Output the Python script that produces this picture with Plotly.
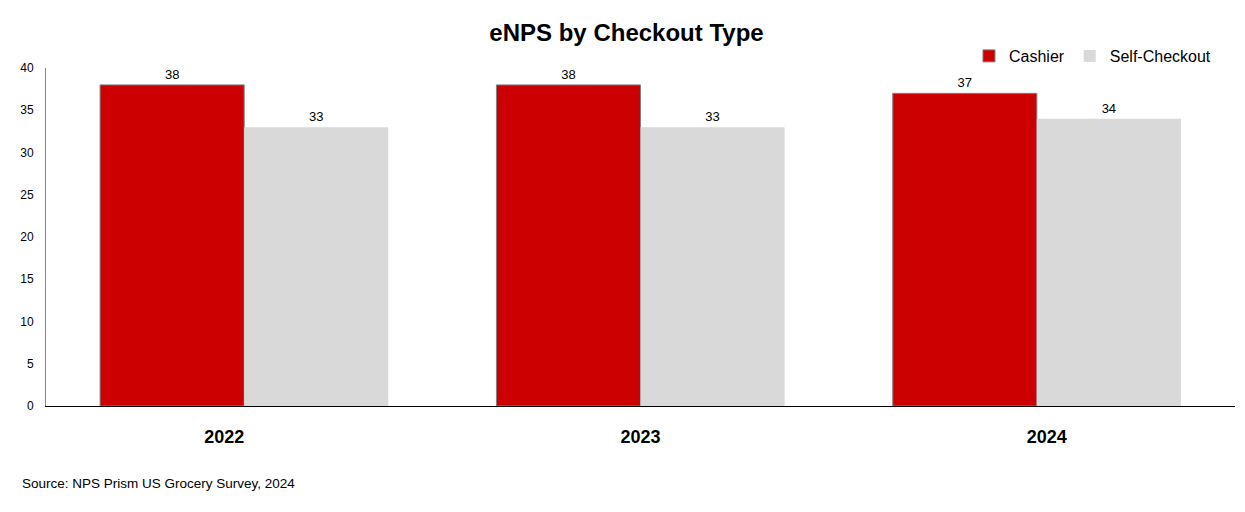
import plotly.graph_objects as go

# chart values
years = ["2022", "2023", "2024"]
cashier = [38, 38, 37]
self_checkout = [33, 33, 34]
# year labels in the source sit a bit off the group centres
year_labels = ["<b>2022</b>" + "&nbsp;" * 8, "<b>2023</b>", "&nbsp;" * 4 + "<b>2024</b>"]

fig = go.Figure()

fig.add_trace(go.Bar(
    x=years, y=cashier, name="Cashier",
    marker=dict(color="#CC0000", line=dict(color="#7F7F7F", width=1)),
    text=cashier, textposition="outside",
    textfont=dict(size=13, color="black"), cliponaxis=False,
))
fig.add_trace(go.Bar(
    x=years, y=self_checkout, name="Self-Checkout",
    marker=dict(color="#D9D9D9", line=dict(width=0)),
    text=self_checkout, textposition="outside",
    textfont=dict(size=13, color="black"), cliponaxis=False,
))

# page body adds ~8px offset, so sizes are trimmed to compensate
fig.update_layout(
    width=1237, height=504,
    margin=dict(l=38, r=10, t=60, b=106),
    paper_bgcolor="white", plot_bgcolor="white",
    font=dict(family="Liberation Sans, Arial", color="black", size=12),
    title=dict(text="<b>eNPS by Checkout Type</b>", x=0.5, xanchor="center",
               y=0.952, yanchor="middle", font=dict(size=24)),
    barmode="group", bargap=0.273, bargroupgap=0,
    legend=dict(orientation="h", x=0.984, xanchor="right", y=1.0355,
                yanchor="middle", font=dict(size=16), traceorder="normal"),
    showlegend=True,
)

fig.update_yaxes(
    range=[0, 40], dtick=5, showgrid=False, zeroline=False,
    showline=True, linecolor="#888888", linewidth=1,
    ticks="", tickfont=dict(size=12), ticklabelstandoff=9,
)
fig.update_xaxes(
    showgrid=False, showline=True, linecolor="black", linewidth=1,
    ticks="", tickfont=dict(size=18), ticklabelstandoff=14,
    tickvals=years, ticktext=year_labels,
)

fig.add_annotation(
    text="Source: NPS Prism US Grocery Survey, 2024",
    xref="paper", yref="paper", x=-0.0215, y=-0.228,
    xanchor="left", yanchor="middle", showarrow=False,
    font=dict(size=13.5),
)

fig.write_html("out.html")
